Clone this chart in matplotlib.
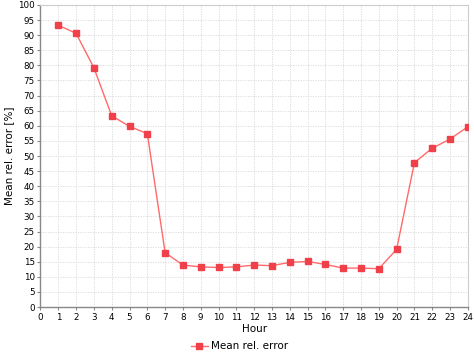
import matplotlib

matplotlib.use("Agg")
import matplotlib.pyplot as plt
from matplotlib.lines import Line2D

hours = list(range(1, 25))
mean_rel_error = [
    93.3, 90.6, 79.2, 63.3, 59.8, 57.4, 18.0, 13.9, 13.3, 13.1, 13.3, 13.9,
    13.7, 14.8, 15.1, 14.1, 12.9, 12.9, 12.7, 19.1, 47.8, 52.6, 55.6, 59.7,
]
x_ticks = list(range(0, 25))
y_ticks = list(range(0, 101, 5))

LINE_COLOR = "#ff6a6a"
MARKER_COLOR = "#f0404a"

fig = plt.figure(figsize=(4.74, 3.55), dpi=100)
ax = fig.add_axes([0.0854, 0.135, 0.9016, 0.851])

ax.plot(hours, mean_rel_error, color=LINE_COLOR, linewidth=1.0,
        marker="s", markersize=4.5, markerfacecolor=MARKER_COLOR,
        markeredgecolor=MARKER_COLOR, zorder=3)

ax.set_xlim(0, 24)
ax.set_ylim(0, 100)
ax.set_xticks(x_ticks)
ax.set_yticks(y_ticks)
ax.tick_params(labelsize=6.3, length=2, color="#888888", pad=2)
ax.grid(True, color="#d8d8d8", linestyle=(0, (1.5, 1.5)), linewidth=0.6)
ax.set_axisbelow(True)

for side in ("left", "bottom"):
    ax.spines[side].set_color("#888888")
    ax.spines[side].set_linewidth(1.0)
for side in ("top", "right"):
    ax.spines[side].set_color("#cccccc")
    ax.spines[side].set_linewidth(0.8)

ax.set_xlabel("Hour", fontsize=7.5, labelpad=2)
ax.set_ylabel("Mean rel. error [%]", fontsize=7.5, labelpad=3)

handle = Line2D([], [], color=LINE_COLOR, linewidth=1.0, marker="s",
                markersize=4.5, markerfacecolor=MARKER_COLOR,
                markeredgecolor=MARKER_COLOR)
fig.legend([handle], ["Mean rel. error"], loc="center",
           bbox_to_anchor=(0.505, 0.024), frameon=False, fontsize=7.5,
           handlelength=1.6, handletextpad=0.3, borderpad=0)

fig.savefig("out.png", dpi=100)
